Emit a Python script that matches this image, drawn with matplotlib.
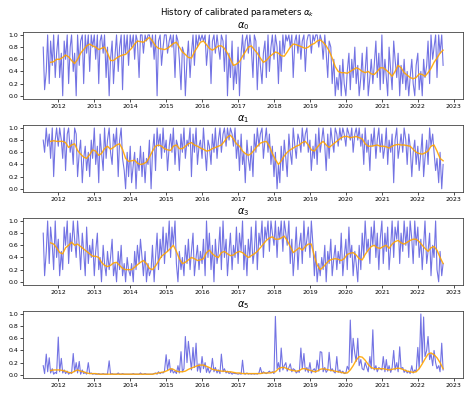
import pandas as pd
import matplotlib
matplotlib.use("Agg")
import matplotlib.pyplot as plt
import matplotlib.dates as mdates

# raw calibrated values, two per month from Aug 2011 (tenths of a unit)
a0_raw = (
    [8, 1, 4, 10, 2, 9, 5, 10, 3, 7]
    + [10, 3, 7, 0, 9, 6, 10, 2, 8, 10, 4, 7, 0, 10, 5, 9, 10, 2, 10, 7, 10, 4, 10, 8]
    + [10, 6, 10, 2, 9, 10, 7, 10, 3, 8, 0, 6, 9, 2, 7, 10, 4, 8, 10, 1, 10, 7, 10, 5]
    + [10, 8, 10, 6, 10, 9, 3, 10, 10, 7, 10, 9, 10, 10, 8, 10, 6, 10, 0, 9, 10, 5, 8, 10]
    + [10, 7, 9, 10, 8, 10, 3, 10, 9, 6, 1, 8, 7, 0, 6, 9, 3, 7, 10, 5, 10, 8, 10, 9]
    + [10, 9, 10, 5, 8, 10, 2, 9, 10, 7, 10, 8, 6, 10, 9, 4, 10, 0, 7, 3, 9, 1, 5, 2]
    + [8, 0, 7, 10, 6, 9, 10, 7, 10, 8, 3, 10, 9, 1, 8, 5, 2, 7, 9, 3, 10, 4, 8, 10]
    + [6, 10, 8, 2, 9, 4, 10, 7, 10, 9, 10, 8, 10, 3, 9, 10, 7, 10, 6, 9, 10, 4, 9, 10]
    + [10, 7, 10, 9, 10, 10, 8, 10, 9, 6, 10, 7, 3, 9, 8, 2, 6, 0, 3, 1, 5, 0, 6, 2]
    + [0, 4, 7, 1, 6, 3, 8, 2, 5, 0, 3, 7, 1, 4, 8, 0, 3, 6, 2, 5, 9, 3, 7, 1]
    + [10, 2, 6, 3, 0, 8, 4, 1, 9, 6, 3, 7, 0, 5, 2, 6, 1, 4, 0, 3, 6, 2, 0, 5]
    + [7, 1, 4, 0, 6, 3, 5, 9, 2, 10, 6, 8, 10, 3, 10, 7, 10, 5]
)
a1_raw = (
    [8, 6, 10, 7, 9, 5, 10, 2, 8, 10]
    + [7, 10, 8, 5, 10, 3, 9, 10, 6, 8, 4, 10, 9, 2, 6, 8, 1, 5, 7, 3, 6, 2, 8, 5]
    + [10, 4, 7, 1, 9, 6, 3, 10, 5, 8, 10, 6, 4, 9, 7, 10, 2, 8, 10, 5, 3, 0, 6, 2]
    + [7, 1, 4, 6, 0, 5, 3, 7, 2, 6, 1, 5, 4, 8, 0, 6, 9, 3, 10, 7, 9, 5, 10, 6]
    + [8, 3, 7, 9, 6, 10, 4, 8, 7, 3, 9, 6, 10, 5, 8, 7, 10, 2, 9, 6, 10, 4, 7, 8]
    + [5, 10, 6, 3, 8, 7, 4, 9, 6, 10, 5, 8, 10, 6, 9, 10, 7, 10, 8, 10, 9, 7, 10, 5]
    + [8, 3, 9, 4, 6, 1, 8, 5, 3, 7, 2, 9, 6, 10, 7, 9, 10, 5, 8, 10, 6, 9, 4, 7]
    + [2, 6, 0, 4, 1, 7, 3, 8, 5, 2, 9, 6, 4, 10, 7, 5, 9, 8, 6, 10, 7, 9, 10, 6]
    + [8, 3, 7, 5, 9, 4, 10, 6, 8, 10, 7, 3, 9, 5, 10, 8, 6, 10, 9, 7, 10, 8, 10, 9]
    + [7, 10, 9, 8, 10, 6, 9, 10, 8, 10, 7, 9, 4, 10, 6, 8, 3, 9, 7, 10, 5, 8, 10, 6]
    + [9, 5, 7, 10, 4, 8, 6, 9, 1, 8, 10, 5, 7, 9, 6, 10, 8, 4, 9, 7, 2, 6, 8, 4]
    + [7, 3, 6, 9, 2, 5, 8, 4, 10, 7, 9, 6, 3, 5, 1, 6, 0, 4]
)
a3_raw = (
    [8, 1, 5, 10, 3, 9, 6, 2, 10, 4]
    + [7, 1, 5, 2, 9, 6, 10, 3, 8, 5, 10, 7, 4, 10, 6, 2, 8, 5, 1, 9, 3, 6, 4, 7]
    + [1, 5, 8, 2, 4, 0, 6, 3, 1, 5, 2, 4, 7, 1, 3, 0, 5, 2, 6, 1, 3, 0, 4, 2]
    + [1, 3, 0, 5, 2, 6, 3, 7, 4, 1, 5, 0, 3, 1, 2, 6, 0, 4, 8, 2, 7, 4, 9, 3]
    + [8, 5, 10, 4, 9, 6, 10, 3, 0, 5, 2, 4, 1, 6, 3, 7, 2, 5, 8, 1, 4, 6, 2, 5]
    + [3, 7, 1, 10, 4, 8, 2, 6, 0, 7, 3, 5, 9, 2, 10, 4, 7, 1, 5, 8, 2, 6, 4, 9]
    + [3, 8, 5, 10, 2, 6, 1, 7, 4, 9, 3, 5, 10, 2, 8, 6, 10, 4, 9, 7, 10, 5, 10, 8]
    + [6, 10, 4, 9, 7, 10, 5, 10, 8, 6, 10, 3, 7, 1, 5, 9, 2, 6, 8, 3, 10, 5, 7, 9]
    + [4, 10, 6, 1, 5, 0, 3, 1, 4, 2, 6, 0, 5, 3, 7, 1, 4, 6, 2, 5, 3, 8, 1, 4]
    + [7, 2, 9, 4, 6, 1, 5, 3, 0, 6, 2, 8, 4, 10, 5, 7, 3, 9, 6, 10, 4, 8, 2, 7]
    + [10, 3, 8, 5, 9, 2, 6, 10, 4, 9, 7, 10, 3, 8, 5, 10, 6, 9, 4, 10, 7, 3, 10, 6]
    + [9, 4, 7, 2, 6, 10, 3, 5, 8, 1, 6, 4, 10, 2, 0, 5, 1, 3]
)
# alpha_5 in hundredths
a5_raw = (
    [15, 2, 34, 5, 28, 3, 10, 1, 4, 2]
    + [62, 5, 27, 3, 8, 2, 6, 1, 4, 2, 35, 5, 20, 3, 22, 1, 8, 2, 4, 1, 20, 2, 3, 1]
    + [2, 1, 1, 2, 1, 1, 2, 1, 1, 1, 23, 1, 2, 1, 1, 1, 3, 1, 1, 2, 1, 1, 1, 1]
    + [1, 1, 2, 1, 1, 1, 1, 3, 1, 1, 2, 1, 1, 1, 1, 1, 2, 3, 1, 5, 2, 4, 3, 6]
    + [33, 8, 25, 4, 10, 3, 6, 2, 15, 3, 38, 5, 10, 63, 20, 55, 30, 8, 45, 12, 52, 6, 18, 4]
    + [30, 10, 20, 4, 12, 3, 8, 27, 5, 12, 3, 8, 2, 34, 5, 10, 3, 6, 2, 4, 1, 3, 2, 2]
    + [1, 2, 1, 24, 2, 1, 3, 1, 2, 1, 2, 1, 2, 1, 3, 12, 2, 5, 3, 2, 4, 6, 3, 5]
    + [2, 96, 10, 20, 5, 44, 8, 15, 20, 6, 12, 18, 5, 10, 8, 3, 6, 4, 44, 10, 35, 6, 12, 4]
    + [20, 3, 8, 10, 4, 24, 6, 38, 37, 5, 12, 4, 8, 37, 6, 10, 5, 3, 30, 4, 8, 3, 6, 2]
    + [3, 14, 8, 90, 20, 60, 35, 22, 60, 15, 25, 10, 8, 20, 12, 5, 30, 10, 74, 8, 15, 5, 12, 10]
    + [8, 30, 5, 25, 6, 15, 4, 12, 40, 8, 20, 5, 46, 10, 12, 4, 8, 3, 6, 2, 15, 3, 8, 5]
    + [45, 10, 100, 20, 95, 30, 40, 63, 25, 35, 15, 40, 20, 10, 15, 5, 52, 8]
)

# smoothed values, monthly from Oct 2011
a0_smooth = (
    [0.55, 0.56, 0.60]
    + [0.60, 0.63, 0.67, 0.64, 0.58, 0.53, 0.60, 0.70, 0.76, 0.82, 0.85, 0.82]
    + [0.80, 0.76, 0.78, 0.80, 0.70, 0.58, 0.58, 0.62, 0.65, 0.67, 0.68, 0.73]
    + [0.78, 0.85, 0.90, 0.89, 0.88, 0.92, 0.96, 0.90, 0.82, 0.78, 0.77, 0.76]
    + [0.78, 0.82, 0.86, 0.88, 0.80, 0.72, 0.68, 0.63, 0.62, 0.72, 0.80, 0.88]
    + [0.90, 0.84, 0.78, 0.75, 0.78, 0.82, 0.82, 0.78, 0.70, 0.60, 0.50, 0.52]
    + [0.56, 0.65, 0.72, 0.80, 0.82, 0.76, 0.70, 0.62, 0.55, 0.58, 0.64, 0.68]
    + [0.72, 0.70, 0.66, 0.65, 0.72, 0.80, 0.85, 0.84, 0.82, 0.80, 0.78, 0.80]
    + [0.84, 0.86, 0.90, 0.92, 0.88, 0.82, 0.74, 0.62, 0.48, 0.40, 0.38, 0.38]
    + [0.37, 0.40, 0.43, 0.46, 0.44, 0.40, 0.38, 0.40, 0.36, 0.35, 0.40, 0.46]
    + [0.46, 0.42, 0.38, 0.32, 0.40, 0.50, 0.46, 0.38, 0.34, 0.30, 0.28, 0.30]
    + [0.36, 0.35, 0.32, 0.38, 0.45, 0.55, 0.62, 0.70, 0.75]
)
a1_smooth = (
    [0.78, 0.79, 0.78]
    + [0.78, 0.78, 0.76, 0.68, 0.72, 0.74, 0.63, 0.57, 0.52, 0.50, 0.56, 0.64]
    + [0.62, 0.55, 0.58, 0.66, 0.70, 0.65, 0.68, 0.72, 0.74, 0.65, 0.50, 0.45]
    + [0.46, 0.47, 0.42, 0.40, 0.41, 0.44, 0.52, 0.62, 0.70, 0.72, 0.70, 0.66]
    + [0.64, 0.63, 0.70, 0.72, 0.66, 0.66, 0.70, 0.74, 0.76, 0.72, 0.70, 0.67]
    + [0.65, 0.62, 0.63, 0.66, 0.68, 0.70, 0.72, 0.78, 0.85, 0.88, 0.82, 0.74]
    + [0.70, 0.62, 0.58, 0.55, 0.58, 0.64, 0.70, 0.75, 0.77, 0.78, 0.70, 0.58]
    + [0.48, 0.40, 0.46, 0.54, 0.60, 0.64, 0.67, 0.70, 0.72, 0.76, 0.78, 0.72]
    + [0.64, 0.62, 0.68, 0.74, 0.78, 0.72, 0.68, 0.72, 0.76, 0.80, 0.84, 0.86]
    + [0.86, 0.84, 0.85, 0.86, 0.84, 0.82, 0.74, 0.70, 0.70, 0.71, 0.72, 0.70]
    + [0.70, 0.69, 0.67, 0.70, 0.72, 0.73, 0.72, 0.72, 0.71, 0.70, 0.65, 0.60]
    + [0.58, 0.57, 0.59, 0.62, 0.70, 0.72, 0.62, 0.50, 0.46]
)
a3_smooth = (
    [0.64, 0.62, 0.56]
    + [0.48, 0.46, 0.56, 0.60, 0.65, 0.60, 0.62, 0.58, 0.54, 0.50, 0.46, 0.42]
    + [0.42, 0.40, 0.32, 0.27, 0.25, 0.27, 0.31, 0.32, 0.27, 0.22, 0.20, 0.20]
    + [0.20, 0.24, 0.28, 0.32, 0.35, 0.30, 0.22, 0.20, 0.26, 0.34, 0.42, 0.46]
    + [0.50, 0.55, 0.60, 0.50, 0.38, 0.30, 0.32, 0.36, 0.40, 0.38, 0.35, 0.36]
    + [0.38, 0.48, 0.52, 0.46, 0.42, 0.40, 0.48, 0.50, 0.46, 0.43, 0.44, 0.48]
    + [0.50, 0.48, 0.44, 0.40, 0.43, 0.46, 0.50, 0.56, 0.62, 0.68, 0.72, 0.74]
    + [0.70, 0.70, 0.72, 0.75, 0.68, 0.58, 0.48, 0.52, 0.56, 0.52, 0.58, 0.62]
    + [0.62, 0.42, 0.28, 0.20, 0.24, 0.30, 0.35, 0.37, 0.38, 0.37, 0.35, 0.38]
    + [0.45, 0.47, 0.48, 0.44, 0.38, 0.36, 0.45, 0.52, 0.58, 0.60, 0.56, 0.55]
    + [0.58, 0.60, 0.55, 0.62, 0.66, 0.68, 0.64, 0.62, 0.65, 0.68, 0.70, 0.70]
    + [0.66, 0.60, 0.55, 0.50, 0.56, 0.58, 0.52, 0.40, 0.30]
)
a5_smooth = (
    [0.07, 0.08, 0.08]
    + [0.08, 0.07, 0.06, 0.04, 0.03, 0.06, 0.08, 0.06, 0.05, 0.03, 0.02, 0.02]
    + [0.02, 0.01, 0.01, 0.01, 0.01, 0.01, 0.01, 0.01, 0.01, 0.01, 0.01, 0.01]
    + [0.01, 0.01, 0.01, 0.01, 0.01, 0.01, 0.01, 0.01, 0.02, 0.03, 0.04, 0.05]
    + [0.07, 0.10, 0.09, 0.06, 0.05, 0.05, 0.06, 0.09, 0.11, 0.13, 0.15, 0.16]
    + [0.16, 0.14, 0.12, 0.09, 0.08, 0.07, 0.06, 0.06, 0.05, 0.05, 0.04, 0.03]
    + [0.03, 0.02, 0.02, 0.02, 0.02, 0.02, 0.02, 0.02, 0.03, 0.03, 0.03, 0.04]
    + [0.05, 0.10, 0.12, 0.12, 0.10, 0.08, 0.07, 0.06, 0.07, 0.10, 0.10, 0.08]
    + [0.07, 0.05, 0.06, 0.09, 0.10, 0.09, 0.08, 0.07, 0.06, 0.05, 0.04, 0.03]
    + [0.03, 0.08, 0.15, 0.24, 0.30, 0.29, 0.24, 0.17, 0.12, 0.10, 0.10, 0.10]
    + [0.10, 0.09, 0.08, 0.09, 0.10, 0.11, 0.10, 0.08, 0.06, 0.05, 0.04, 0.05]
    + [0.10, 0.18, 0.26, 0.34, 0.36, 0.33, 0.28, 0.20, 0.10]
)

titles = [r"$\alpha_0$", r"$\alpha_1$", r"$\alpha_3$", r"$\alpha_5$"]
raw = [[v / 10 for v in a0_raw], [v / 10 for v in a1_raw],
       [v / 10 for v in a3_raw], [v / 100 for v in a5_raw]]
smooth = [a0_smooth, a1_smooth, a3_smooth, a5_smooth]

for r in raw:
    assert len(r) == 268, len(r)
for s in smooth:
    assert len(s) == 132, len(s)

raw_dates = pd.date_range("2011-08-01", periods=268, freq="SMS")
smooth_dates = pd.date_range("2011-10-01", periods=132, freq="MS") + pd.Timedelta(days=14)

fig, axes = plt.subplots(4, 1, figsize=(4.74, 3.94), dpi=100)
fig.subplots_adjust(left=0.049, right=0.977, top=0.919, bottom=0.041, hspace=0.39)
fig.suptitle(r"History of calibrated parameters $\alpha_k$", fontsize=6.2, y=0.985)

for ax, t, r, s in zip(axes, titles, raw, smooth):
    ax.plot(raw_dates, r, color="mediumblue", alpha=0.55, linewidth=0.8)
    ax.plot(smooth_dates, s, color="orange", linewidth=1.0, alpha=0.9)
    ax.set_title(t, fontsize=7, pad=2)
    ax.set_ylim(-0.05, 1.05)
    ax.set_yticks([0.0, 0.2, 0.4, 0.6, 0.8, 1.0])
    ax.xaxis.set_major_locator(mdates.YearLocator())
    ax.xaxis.set_major_formatter(mdates.DateFormatter("%Y"))
    ax.tick_params(labelsize=4.5, length=2, width=0.5, pad=1.5)
    for sp in ax.spines.values():
        sp.set_linewidth(0.6)
        sp.set_color("#444444")

fig.savefig("out.png", dpi=100)
